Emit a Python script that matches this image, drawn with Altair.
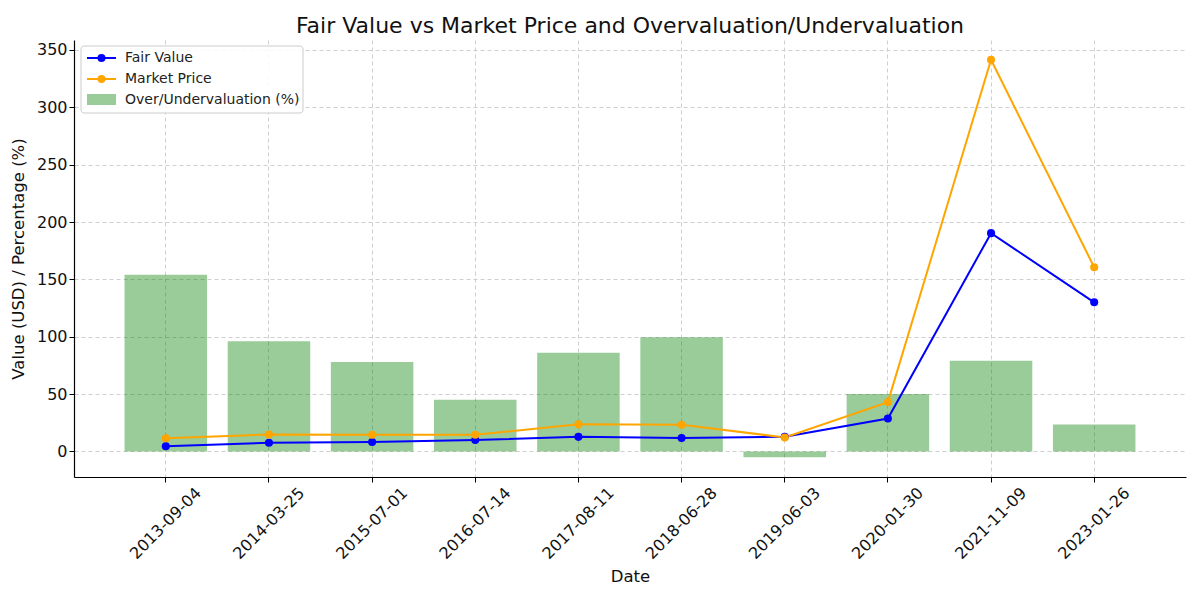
import altair as alt
import pandas as pd

dates = ["2013-09-04", "2014-03-25", "2015-07-01", "2016-07-14", "2017-08-11",
         "2018-06-28", "2019-06-03", "2020-01-30", "2021-11-09", "2023-01-26"]
fair_value = [4.5, 7.5, 8.2, 10.0, 12.7, 11.7, 12.8, 28.7, 190.3, 130.0]
market_price = [11.5, 14.7, 14.6, 14.5, 23.6, 23.3, 12.2, 43.0, 341.5, 160.5]
over_under = [154.0, 96.0, 78.0, 45.0, 86.0, 99.5, -5.0, 50.0, 79.0, 23.5]

series_names = ["Fair Value", "Market Price"]
series_colors = ["#0000ff", "#ffa500"]
bar_label = "Over/Undervaluation (%)"
y_ticks = [0, 50, 100, 150, 200, 250, 300, 350]

FONT = "DejaVu Sans"

bars_df = pd.DataFrame({"Date": dates, "pct": over_under})
lines_df = pd.DataFrame({
    "Date": dates * 2,
    "value": fair_value + market_price,
    "series": [series_names[0]] * len(dates) + [series_names[1]] * len(dates),
})

grid_kw = dict(grid=True, gridDash=[4, 3], gridColor="#cfcfcf", gridWidth=1)

x_enc = alt.X(
    "Date:N", sort=dates, title="Date",
    scale=alt.Scale(paddingInner=0.2, paddingOuter=0.49),
    axis=alt.Axis(labelAngle=-45, labelAlign="center", labelBaseline="middle",
                  labelPadding=41, tickSize=5, titlePadding=7, **grid_kw),
)
y_scale = alt.Scale(domain=[-22.3, 358.7], nice=False, zero=False)
y_axis = alt.Axis(values=y_ticks, tickSize=5, titlePadding=10, **grid_kw)

bars = alt.Chart(bars_df).mark_bar(color="green", opacity=0.4).encode(
    x=x_enc,
    y=alt.Y("pct:Q", scale=y_scale, axis=y_axis, title="Value (USD) / Percentage (%)"),
    y2=alt.datum(0),
)

lines = alt.Chart(lines_df).mark_line(
    strokeWidth=2,
    point=alt.OverlayMarkDef(filled=True, size=65),
).encode(
    x=alt.X("Date:N", sort=dates),
    y=alt.Y("value:Q", scale=y_scale),
    color=alt.Color("series:N", scale=alt.Scale(domain=series_names, range=series_colors),
                    legend=None),
)

# Manual legend (matplotlib-style box inside top-left)
one = pd.DataFrame({"k": [0]})
leg_box = alt.Chart(one).mark_rect(fill="white", fillOpacity=0.85, stroke="#cccccc",
                                   strokeWidth=1, cornerRadius=3).encode(
    x=alt.value(7), x2=alt.value(229), y=alt.value(6), y2=alt.value(73))

legend_layers = [leg_box]
for i, (name, col) in enumerate(zip(series_names, series_colors)):
    yy = 18 + i * 21
    legend_layers.append(alt.Chart(one).mark_rule(color=col, strokeWidth=2).encode(
        x=alt.value(13), x2=alt.value(42), y=alt.value(yy)))
    legend_layers.append(alt.Chart(one).mark_point(color=col, filled=True, size=65, opacity=1).encode(
        x=alt.value(27.5), y=alt.value(yy)))
    legend_layers.append(alt.Chart(one).mark_text(align="left", baseline="middle", fontSize=14,
                                                  font=FONT, color="#222222").encode(
        x=alt.value(51), y=alt.value(yy), text=alt.value(name)))
legend_layers.append(alt.Chart(one).mark_rect(color="green", opacity=0.4).encode(
    x=alt.value(13), x2=alt.value(42), y=alt.value(54), y2=alt.value(65)))
legend_layers.append(alt.Chart(one).mark_text(align="left", baseline="middle", fontSize=14,
                                              font=FONT, color="#222222").encode(
    x=alt.value(51), y=alt.value(60), text=alt.value(bar_label)))

chart = alt.layer(bars, lines, *legend_layers).properties(
    width=1112, height=437,
    title=alt.TitleParams("Fair Value vs Market Price and Overvaluation/Undervaluation",
                          fontSize=22, font=FONT, fontWeight="normal", color="#111111",
                          offset=2),
    padding={"left": 10, "top": 15, "right": 5, "bottom": 5},
).configure_view(stroke=None).configure_axis(
    labelFont=FONT, titleFont=FONT, labelFontSize=16, titleFontSize=16.5,
    labelColor="#111111", titleColor="#111111", titleFontWeight="normal",
    domainColor="#000000", domainWidth=1.2, tickColor="#000000", tickWidth=1,
)

chart.save("out.html", embed_options={"renderer": "svg", "actions": False})
